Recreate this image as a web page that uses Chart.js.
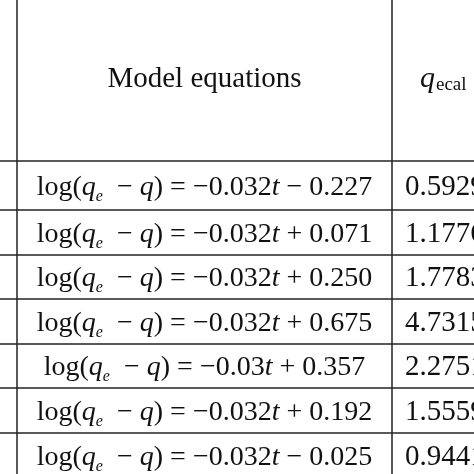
<!DOCTYPE html>
<html>
<head>
<meta charset="utf-8">
<script src="https://cdn.jsdelivr.net/npm/chart.js@4/dist/chart.umd.min.js"></script>
<style>
  body { margin: 0; background: #fff; }
  #wrap { width: 474px; height: 474px; }
</style>
</head>
<body>
<div id="wrap"><canvas id="chart"></canvas></div>
<script>
// table content
const intercepts = ["−0.227", "+0.071", "+0.250", "+0.675", "+0.357", "+0.192", "−0.025"];
const slopes = ["0.032", "0.032", "0.032", "0.032", "0.03", "0.032", "0.032"];
const qecal = ["0.5929", "1.1776", "1.7783", "4.7315", "2.2751", "1.5559", "0.9441"];
// grid of the table (in pixel units of the 474 window)
const rowLines = [161, 210, 255, 299, 344, 388, 433];
const colLines = [17, 392];

const serif = "'Liberation Serif', 'DejaVu Serif', serif";

function drawRich(ctx, segs, cx, baseline) {
  let w = 0;
  segs.forEach(s => {
    ctx.font = (s.it ? "italic " : "") + s.size + "px " + serif;
    s.w = ctx.measureText(s.t).width;
    w += s.w;
  });
  let x = cx - w / 2;
  segs.forEach(s => {
    ctx.font = (s.it ? "italic " : "") + s.size + "px " + serif;
    ctx.fillText(s.t, x, baseline + (s.dy || 0));
    x += s.w;
  });
}

function eqSegs(slope, icpt) {
  const sign = icpt[0], num = icpt.slice(1);
  return [
    { t: "log(", size: 28 },
    { t: "q", size: 28, it: true },
    { t: "e", size: 16, it: true, dy: 6 },
    { t: "  − ", size: 28 },
    { t: "q", size: 28, it: true },
    { t: ") = −" + slope, size: 28 },
    { t: "t", size: 28, it: true },
    { t: " " + sign + " " + num, size: 28 }
  ];
}

const tablePlugin = {
  id: "tablePlugin",
  afterDraw(c) {
    const ctx = c.ctx, xs = c.scales.x, ys = c.scales.y;
    ctx.save();
    ctx.strokeStyle = "#222";
    ctx.lineWidth = 1.5;
    rowLines.forEach(v => {
      const y = ys.getPixelForValue(v);
      ctx.beginPath(); ctx.moveTo(xs.getPixelForValue(0), y); ctx.lineTo(xs.getPixelForValue(474), y); ctx.stroke();
    });
    colLines.forEach(v => {
      const x = xs.getPixelForValue(v);
      ctx.beginPath(); ctx.moveTo(x, ys.getPixelForValue(0)); ctx.lineTo(x, ys.getPixelForValue(474)); ctx.stroke();
    });
    ctx.fillStyle = "#111";
    ctx.textAlign = "left";
    const mid = xs.getPixelForValue((colLines[0] + colLines[1]) / 2);
    // header
    ctx.font = "29px " + serif;
    ctx.textAlign = "center";
    ctx.fillText("Model equations", mid, ys.getPixelForValue(87));
    ctx.textAlign = "left";
    ctx.font = "italic 30px " + serif;
    ctx.fillText("q", xs.getPixelForValue(420), ys.getPixelForValue(87));
    ctx.font = "19px " + serif;
    ctx.fillText("ecal", xs.getPixelForValue(436), ys.getPixelForValue(90));
    // rows
    intercepts.forEach((icpt, i) => {
      const top = rowLines[i], bot = i + 1 < rowLines.length ? rowLines[i + 1] : 478;
      const base = ys.getPixelForValue((top + bot) / 2 + 9);
      drawRich(ctx, eqSegs(slopes[i], icpt), mid, base);
      ctx.font = "29px " + serif;
      ctx.fillText(qecal[i], xs.getPixelForValue(405), base);
    });
    ctx.restore();
  }
};

new Chart(document.querySelector("#chart"), {
  type: "scatter",
  data: { datasets: [{ data: [] }] },
  options: {
    responsive: true,
    maintainAspectRatio: false,
    animation: false,
    layout: { padding: 0 },
    plugins: { legend: { display: false }, tooltip: { enabled: false } },
    scales: {
      x: { min: 0, max: 474, display: false },
      y: { min: 0, max: 474, reverse: true, display: false }
    }
  },
  plugins: [tablePlugin]
});
</script>
</body>
</html>
